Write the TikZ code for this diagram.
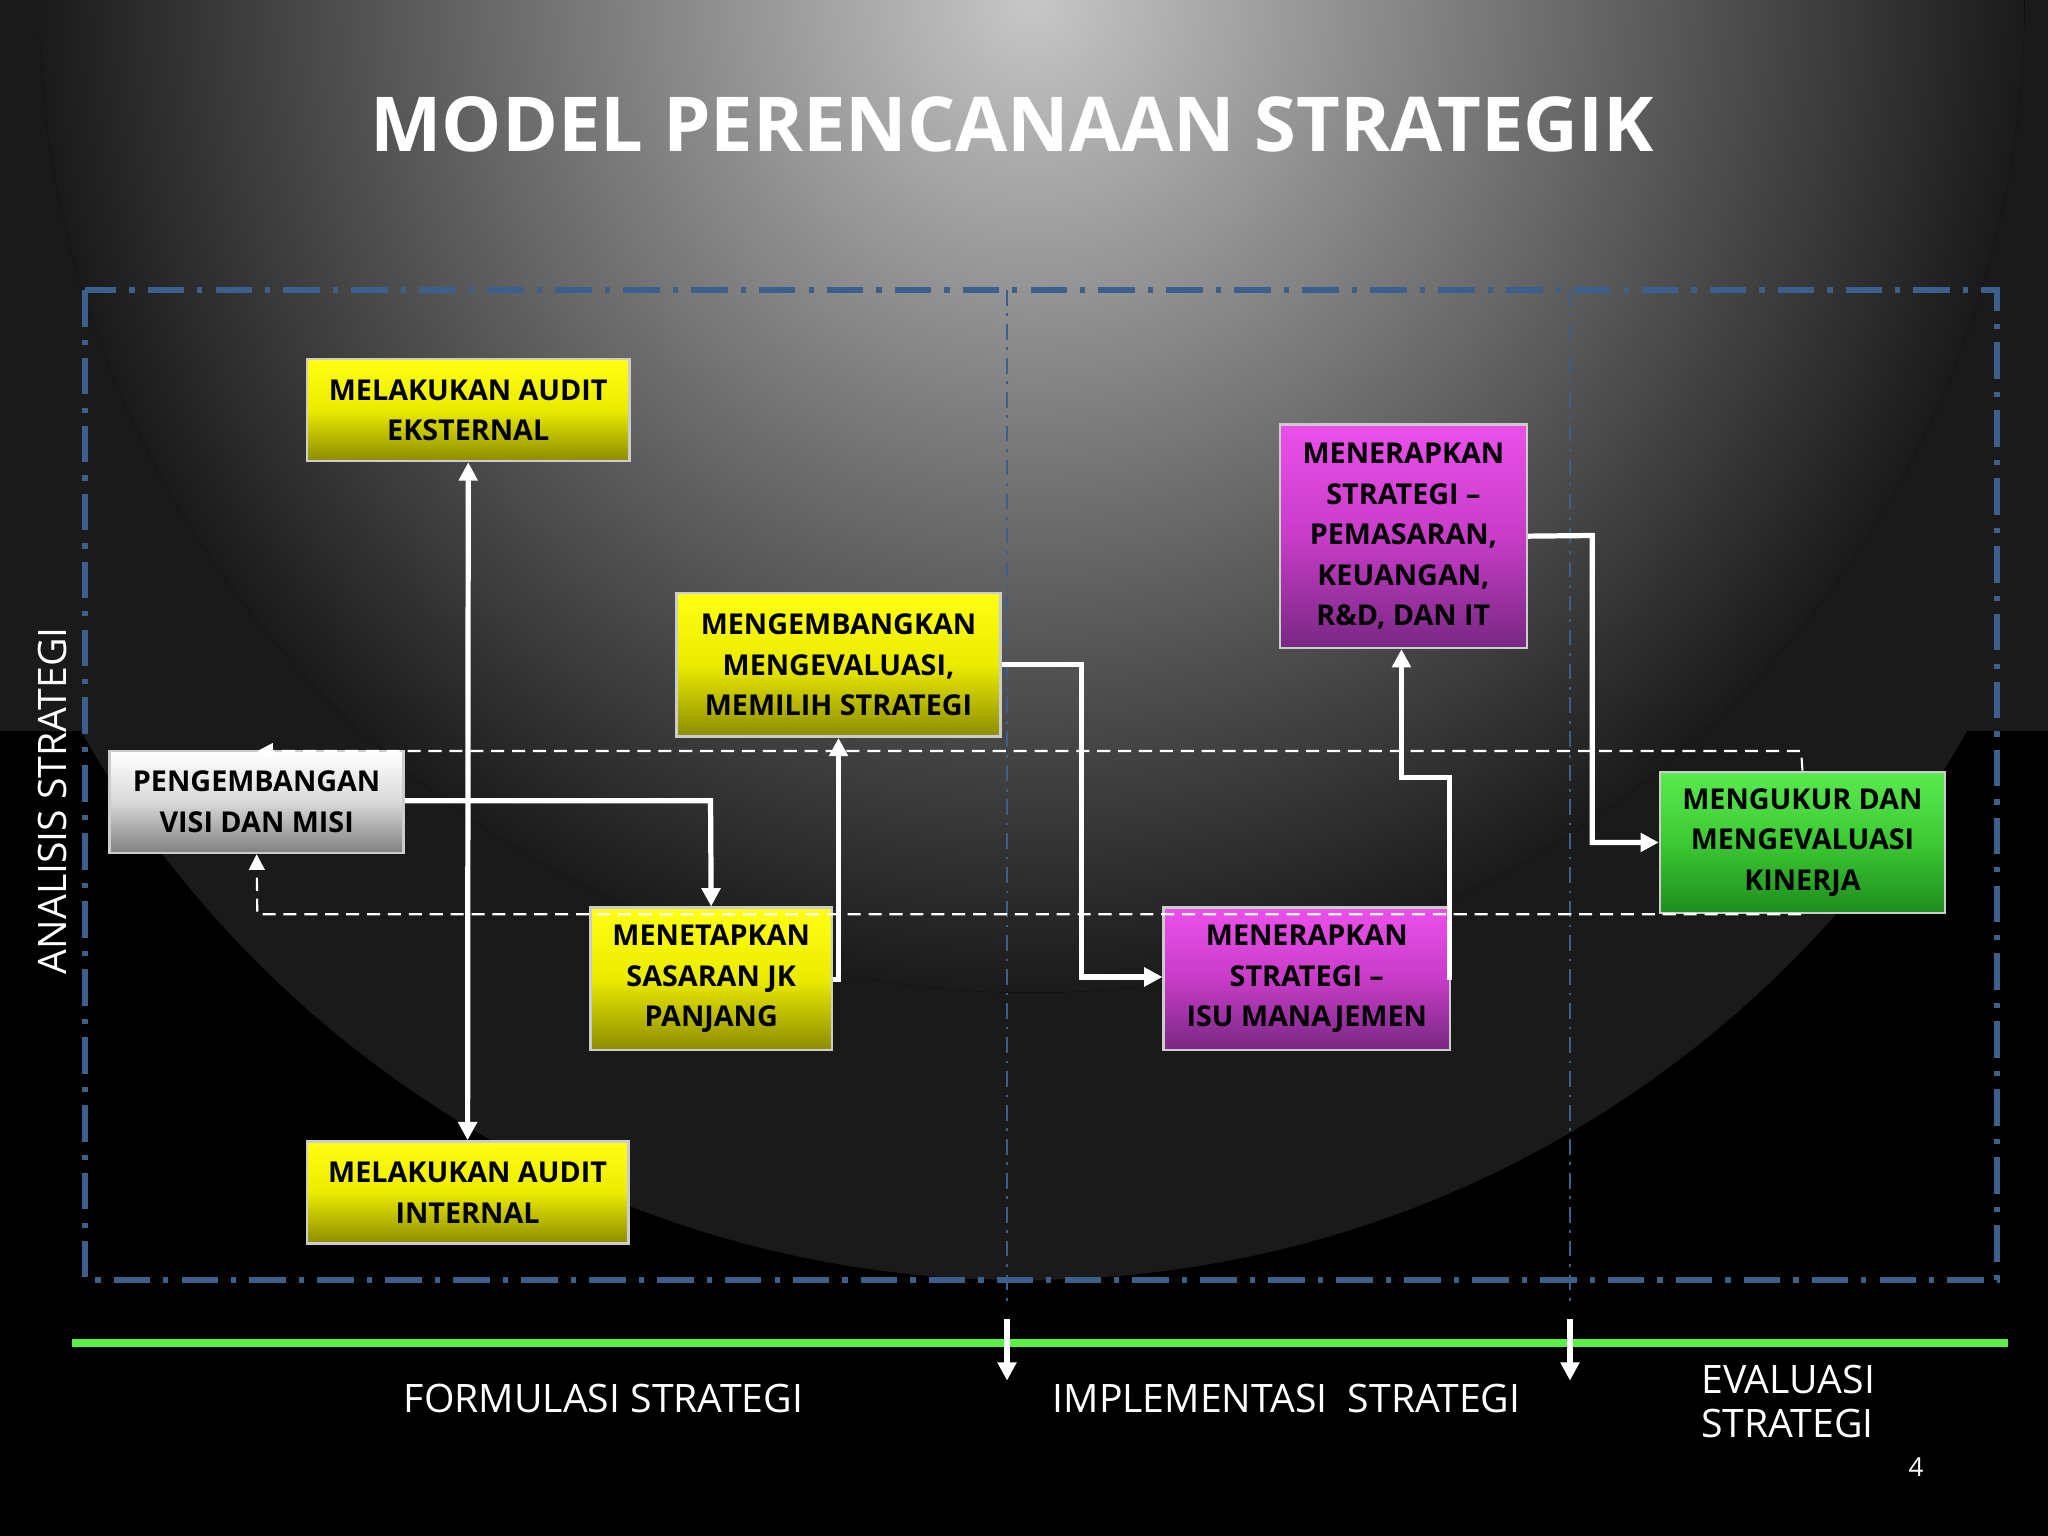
\documentclass[tikz,border=0pt]{standalone}
\usepackage{fontspec}
\setmainfont{Open Sans}
\usetikzlibrary{arrows.meta}
\definecolor{frameblue}{RGB}{60,95,140}
\definecolor{gline}{RGB}{90,240,70}
\definecolor{bgdark}{RGB}{26,26,26}
\tikzset{
 box/.style={draw=white!80!black,line width=1pt,align=center,font=\bfseries\fontsize{11}{15.5}\selectfont,inner sep=0pt},
 ybox/.style={box,top color={rgb,255:red,255;green,255;blue,20},bottom color={rgb,255:red,140;green,140;blue,0},middle color={rgb,255:red,235;green,235;blue,0}},
 mbox/.style={box,top color={rgb,255:red,235;green,80;blue,235},bottom color={rgb,255:red,120;green,40;blue,130},middle color={rgb,255:red,200;green,60;blue,200}},
 gbox/.style={box,top color={rgb,255:red,90;green,235;blue,80},bottom color={rgb,255:red,30;green,140;blue,30},middle color={rgb,255:red,60;green,200;blue,50}},
 wbox/.style={box,top color=white,bottom color=white!50!black,middle color=white!85!black},
 conn/.style={white,line width=2pt,-{Triangle[length=7pt,width=7pt]}},
 dconn/.style={white,line width=0.8pt,dash pattern=on 5pt off 3pt,-{Triangle[length=6pt,width=6pt]}},
 lbl/.style={white,font=\fontsize{15}{17}\selectfont}
}
\begin{document}
\begin{tikzpicture}[x=0.5pt,y=-0.5pt]
\useasboundingbox (0,0) rectangle (1568,1176);
\fill[black] (0,0) rectangle (1568,1176);
\begin{scope}
\clip (0,0) rectangle (1568,1176);
\fill[bgdark] (0,0) rectangle (1568,560);
\fill[bgdark] (784,150) circle (830);
\fill[inner color=white!78!black,outer color=bgdark] (790,0) circle (760);
\end{scope}
% frames
\draw[frameblue,line width=2.5pt,dash pattern=on 14pt off 5pt on 2pt off 5pt] (65,222) rectangle (1529,980);
\draw[frameblue,line width=0.8pt,dash pattern=on 6pt off 3pt on 1pt off 3pt] (771,222) -- (771,1000);
\draw[frameblue,line width=0.8pt,dash pattern=on 6pt off 3pt on 1pt off 3pt] (1202,222) -- (1202,1000);
\draw[gline,line width=3pt] (55,1028) -- (1537,1028);
\coordinate (a1) at (771,1010); \coordinate (a2) at (771,1057);
\coordinate (b1) at (1202,1010); \coordinate (b2) at (1202,1057);
\draw[conn] (a1) -- (a2);
\draw[conn] (b1) -- (b2);
\node[white,font=\bfseries\fontsize{29}{32}\selectfont] (title) at (775,95) {MODEL PERENCANAAN STRATEGIK};
\node[lbl,rotate=90] (ana) at (40,613) {ANALISIS STRATEGI};
\node[lbl] (f) at (462,1071) {FORMULASI STRATEGI};
\node[lbl] (i) at (985,1071) {IMPLEMENTASI\ \ STRATEGI};
\node[lbl,align=left] (e) at (1369,1073) {EVALUASI\\STRATEGI};
\node[white,font=\fontsize{10}{12}\selectfont] (pg) at (1467,1123) {4};
% boxes
\node[ybox,minimum width=123.5pt,minimum height=39pt] (ext) at (358.5,314) {MELAKUKAN AUDIT\\EKSTERNAL};
\node[ybox,minimum width=123pt,minimum height=39pt] (int) at (358,913) {MELAKUKAN AUDIT\\INTERNAL};
\node[ybox,minimum width=124pt,minimum height=55pt] (dev) at (642,509) {MENGEMBANGKAN\\MENGEVALUASI,\\MEMILIH STRATEGI};
\node[wbox,minimum width=112.5pt,minimum height=39pt] (vis) at (196.5,614) {PENGEMBANGAN\\VISI DAN MISI};
\node[ybox,minimum width=92.5pt,minimum height=54.5pt] (sas) at (544.5,749.5) {MENETAPKAN\\SASARAN JK\\PANJANG};
\node[mbox,minimum width=94.5pt,minimum height=85.5pt] (pem) at (1074.5,410.5) {MENERAPKAN\\STRATEGI --\\PEMASARAN,\\KEUANGAN,\\R\&D, DAN IT};
\node[mbox,minimum width=109.5pt,minimum height=54.5pt] (isu) at (1000.5,749.5) {MENERAPKAN\\STRATEGI --\\ISU MANAJEMEN};
\node[gbox,minimum width=109pt,minimum height=54pt] (uk) at (1380,645) {MENGUKUR DAN\\MENGEVALUASI\\KINERJA};
% connectors
\draw[conn,{Triangle[length=7pt,width=7pt]}-{Triangle[length=7pt,width=7pt]}] (ext.south) -- (int.north);
\draw[conn] (vis.east |- 0,613) -- (544,613) -- (sas.north);
\draw[conn] (sas.east |- 0,750) -- (642,750) -- (dev.south -| 642,0);
\draw[conn] (dev.east) -- (828,509) -- (828,748) -- (isu.west |- 0,748);
\draw[conn] (1110,750) -- (1110,595) -- (1073,595) -- (pem.south -| 1073,0);
\draw[conn] (pem.east) -- (1219,410) -- (1219,645) -- (uk.west);
\draw[dconn] (uk.north) -- (1379,575) -- (197,575);
\draw[dconn] (1379,700) -- (197,700) -- (vis.south);
\end{tikzpicture}
\end{document}
